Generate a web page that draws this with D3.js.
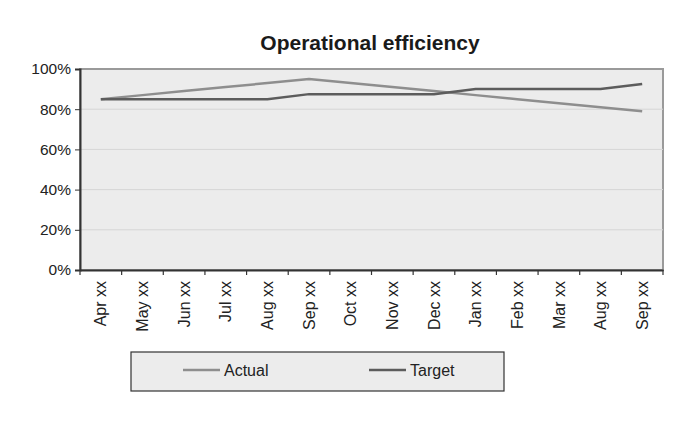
<!DOCTYPE html>
<html>
<head>
<meta charset="utf-8">
<script src="https://d3js.org/d3.v7.min.js"></script>
<style>
body { margin: 0; background: #fff; }
svg { font-family: "Liberation Sans", Arial, sans-serif; }
</style>
</head>
<body>
<svg id="chart" width="700" height="427"></svg>
<script>
var months = ["Apr xx", "May xx", "Jun xx", "Jul xx", "Aug xx", "Sep xx", "Oct xx",
              "Nov xx", "Dec xx", "Jan xx", "Feb xx", "Mar xx", "Aug xx", "Sep xx"];
var actual = [85, 87, 89, 91, 93, 95, 93, 91, 89, 87, 85, 83, 81, 79];
var target = [85, 85, 85, 85, 85, 87.5, 87.5, 87.5, 87.5, 90, 90, 90, 90, 92.5];
var yTicks = [0, 20, 40, 60, 80, 100];

var plotL = 80, plotR = 663, plotT = 69, plotB = 270;
var svg = d3.select("#chart");

var x = d3.scaleBand().domain(d3.range(months.length)).range([plotL, plotR]);
var y = d3.scaleLinear().domain([0, 100]).range([plotB, plotT]);

// plot area
svg.append("rect")
  .attr("x", plotL).attr("y", plotT)
  .attr("width", plotR - plotL).attr("height", plotB - plotT)
  .attr("fill", "#ececec").attr("stroke", "#9a9a9a").attr("stroke-width", 2);

// gridlines
svg.selectAll(".grid").data(yTicks.slice(1, -1)).enter()
  .append("line")
  .attr("x1", plotL).attr("x2", plotR)
  .attr("y1", function(d) { return y(d); })
  .attr("y2", function(d) { return y(d); })
  .attr("stroke", "#d6d6d6").attr("stroke-width", 1);

// y axis
var yAxis = svg.append("g")
  .attr("transform", "translate(" + plotL + ",0)")
  .call(d3.axisLeft(y).tickValues(yTicks).tickSize(5).tickFormat(function(d) { return d + "%"; }));
yAxis.select(".domain").attr("stroke", "#333").attr("stroke-width", 2);
yAxis.selectAll(".tick line").attr("stroke", "#333");
yAxis.selectAll("text").attr("font-size", 15.5).attr("fill", "#222").attr("x", -9);

// x axis
var xAxis = svg.append("g")
  .attr("transform", "translate(0," + plotB + ")")
  .call(d3.axisBottom(x).tickSize(0).tickFormat(function(i) { return months[i]; }));
xAxis.select(".domain").attr("stroke", "#333").attr("stroke-width", 2);
xAxis.selectAll(".tick text")
  .attr("font-size", 16).attr("fill", "#222")
  .attr("transform", "rotate(-90)")
  .attr("x", -11).attr("y", 0).attr("dy", "0.35em")
  .attr("text-anchor", "end");
// boundary ticks between categories
svg.selectAll(".xtick").data(d3.range(months.length + 1)).enter()
  .append("line")
  .attr("x1", function(i) { return plotL + i * x.step(); })
  .attr("x2", function(i) { return plotL + i * x.step(); })
  .attr("y1", plotB).attr("y2", plotB + 5)
  .attr("stroke", "#333").attr("stroke-width", 1.2);

// lines
var line = d3.line()
  .x(function(d, i) { return x(i) + x.bandwidth() / 2; })
  .y(function(d) { return y(d); });

svg.append("path").datum(actual)
  .attr("d", line).attr("fill", "none")
  .attr("stroke", "#8e8e8e").attr("stroke-width", 2.5);
svg.append("path").datum(target)
  .attr("d", line).attr("fill", "none")
  .attr("stroke", "#5c5c5c").attr("stroke-width", 2.5);

// title
svg.append("text")
  .attr("x", 370).attr("y", 50)
  .attr("text-anchor", "middle")
  .attr("font-size", 21).attr("font-weight", "bold").attr("fill", "#1a1a1a")
  .text("Operational efficiency");

// legend
svg.append("rect")
  .attr("x", 131).attr("y", 352).attr("width", 373).attr("height", 39)
  .attr("fill", "#ececec").attr("stroke", "#333").attr("stroke-width", 1.2);
var legend = [
  { name: "Actual", color: "#8e8e8e", x: 183 },
  { name: "Target", color: "#5c5c5c", x: 369 }
];
var lg = svg.selectAll(".lg").data(legend).enter().append("g");
lg.append("line")
  .attr("x1", function(d) { return d.x; })
  .attr("x2", function(d) { return d.x + 37; })
  .attr("y1", 370).attr("y2", 370)
  .attr("stroke", function(d) { return d.color; }).attr("stroke-width", 2.5);
lg.append("text")
  .attr("x", function(d) { return d.x + 41; })
  .attr("y", 376)
  .attr("font-size", 16).attr("fill", "#222")
  .text(function(d) { return d.name; });
</script>
</body>
</html>
